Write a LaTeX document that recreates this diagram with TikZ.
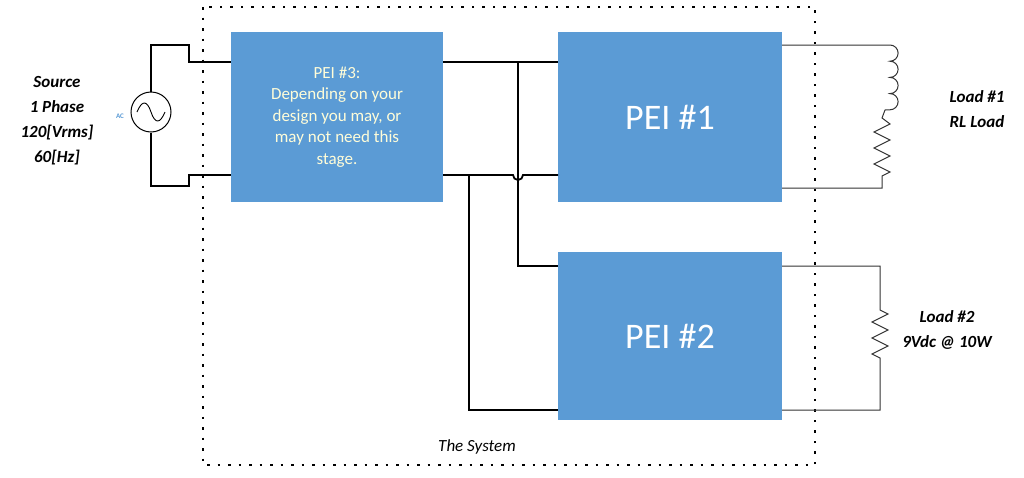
\documentclass[tikz,border=0pt]{standalone}
\usepackage{fontspec}
\setmainfont{Carlito}
\definecolor{peiblue}{HTML}{5B9BD5}
\begin{document}
\begin{tikzpicture}[x=1pt,y=-1pt,
  pei/.style={fill=peiblue,draw=none,inner sep=0pt,text=white,align=center},
  wire/.style={draw=black,line width=1.8pt},
  thin/.style={draw=black!80,line width=1pt},
  lbl/.style={font=\bfseries\itshape\fontsize{17}{25}\selectfont,align=center}]
\useasboundingbox (0,0) rectangle (1024,477);
\draw[line width=2.5pt,dash pattern=on 2.5pt off 8pt] (203,7) rectangle (815,465);
\node[pei,minimum width=212pt,minimum height=170pt,font=\fontsize{17}{21.5}\selectfont,text=white!85!yellow] (p3) at (337,117) {PEI \#3:\\Depending on your\\design you may, or\\may not need this\\stage.};
\node[pei,minimum width=224pt,minimum height=170pt,font=\fontsize{36}{40}\selectfont] (p1) at (670,117) {PEI \#1};
\node[pei,minimum width=224pt,minimum height=168pt,font=\fontsize{36}{40}\selectfont] (p2) at (670,336) {PEI \#2};
% source
\node[circle,draw,line width=1pt,minimum size=40pt,inner sep=0pt] (src) at (151,112) {};
\draw[line width=0.9pt] (137,112) .. controls (142,100) and (147,100) .. (151,112) .. controls (155,124) and (160,124) .. (165,112);
\node[font=\fontsize{7}{8}\selectfont\bfseries,text=peiblue] (ac) at (120,116) {AC};
\coordinate (sT) at (231,62); \coordinate (sB) at (231,175);
\draw[wire] (src.north) -- (151,45) -- (189,45) -- (189,62) -- (sT);
\draw[wire] (src.south) -- (151,186) -- (189,186) -- (189,175) -- (sB);
\node[lbl] (srcl) at (57,121) {Source\\1 Phase\\120[Vrms]\\60[Hz]};
% buses
\coordinate (a1) at (443,62); \coordinate (b1) at (558,62);
\coordinate (a2) at (443,175); \coordinate (b2) at (558,175);
\draw[wire] (a1) -- (b1);
\draw[wire] (a2) -- (513,175) arc[start angle=180,end angle=0,radius=5] -- (b2);
\coordinate (c2) at (558,266); \coordinate (d2) at (558,410);
\draw[wire] (518,62) -- (518,266) -- (c2);
\draw[wire] (469,175) -- (469,410) -- (d2);
% load 1
\coordinate (o1) at (782,45); \coordinate (o2) at (782,188);
\draw[thin] (o1) -- (890,45)
  arc[start angle=-90,end angle=90,radius=8.1] arc[start angle=-90,end angle=90,radius=8.1]
  arc[start angle=-90,end angle=90,radius=8.1] arc[start angle=-90,end angle=90,radius=8.1]
  -- (885,110) -- (882,118) -- (890,124) -- (874,132) -- (890,140) -- (874,148) -- (890,156) -- (874,164) -- (890,172) -- (882,176) -- (882,188) -- (o2);
\node[lbl] (l1) at (977,109) {Load \#1\\RL Load};
% load 2
\coordinate (o3) at (782,266); \coordinate (o4) at (782,410);
\draw[thin] (o3) -- (880,266) -- (880,310) -- (888,314) -- (872,322) -- (888,330) -- (872,338) -- (888,346) -- (872,354) -- (880,358) -- (880,410) -- (o4);
\node[lbl] (l2) at (947,330) {Load \#2\\9Vdc @ 10W};
\node[font=\itshape\fontsize{17}{20}\selectfont] (sys) at (477,447) {The System};
\end{tikzpicture}
\end{document}
